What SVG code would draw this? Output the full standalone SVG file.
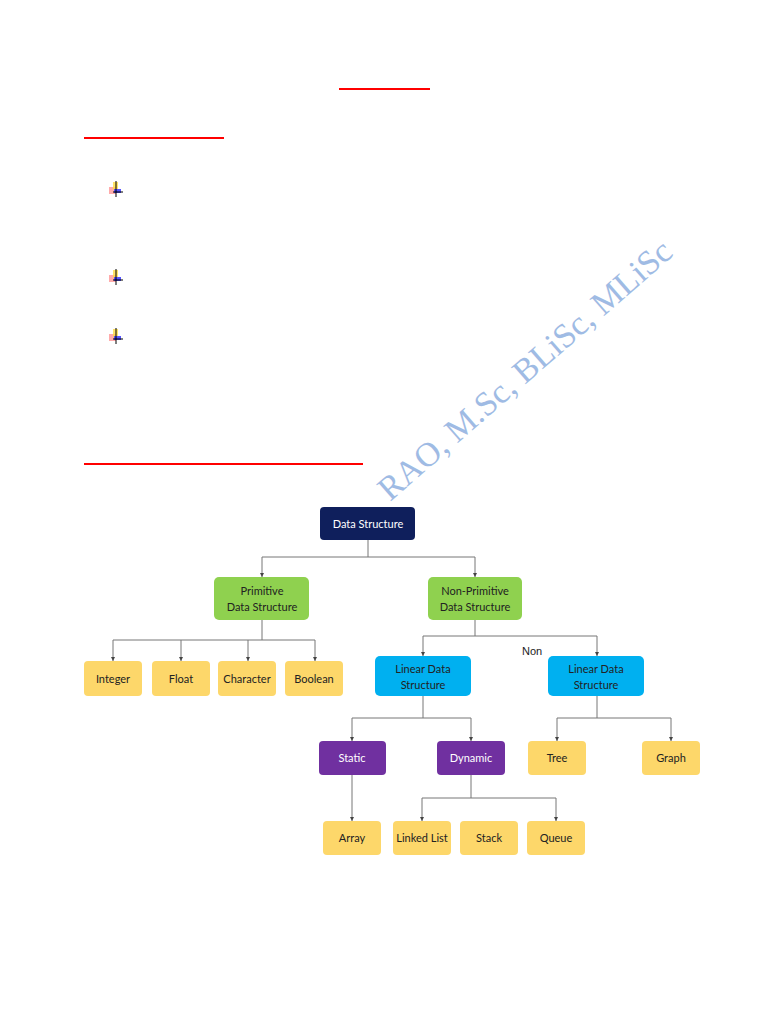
<svg xmlns="http://www.w3.org/2000/svg" width="768" height="1024" viewBox="0 0 768 1024">
<style>
.n text{font-family:"Lato","Liberation Sans",sans-serif;font-size:11px;text-anchor:middle;fill:#222}
.w text{fill:#fff}
.y rect{fill:#fdd76a}
.c line{stroke:#777;stroke-width:1}
.u{stroke:#f00;stroke-width:2}
</style>
<defs><marker id="a" markerWidth="4" markerHeight="4" refX="4" refY="2" orient="auto" markerUnits="userSpaceOnUse"><path d="M0,0 L4,2 L0,4z" fill="#444"/></marker>
<g id="bul"><rect x="-7" y="-3" width="7" height="7" fill="#f88" opacity="0.7"/><rect x="-3" y="-8" width="5" height="8" fill="#fd4" opacity="0.8"/><rect x="-2" y="-1" width="7" height="4" fill="#55f"/><line x1="0" y1="-9" x2="0" y2="7" stroke="#000"/><line x1="-3" y1="2" x2="7" y2="2" stroke="#000"/></g></defs>
<rect width="768" height="1024" fill="#fff"/>
<line class="u" x1="339" y1="89" x2="430" y2="89"/>
<line class="u" x1="84" y1="138" x2="224" y2="138"/>
<line class="u" x1="84" y1="464" x2="363" y2="464"/>
<use href="#bul" x="116" y="190"/><use href="#bul" x="116" y="278"/><use href="#bul" x="116" y="337"/>
<text transform="translate(390,502) rotate(-41)" font-family="Liberation Serif,serif" font-size="34" fill="#8fb0e0" opacity="0.85">RAO, M.Sc, BLiSc, MLiSc</text>
<g class="c" id="connectors">
<line x1="368" y1="540" x2="368" y2="557"/><line x1="262" y1="557" x2="475" y2="557"/>
<line x1="262" y1="557" x2="262" y2="577" marker-end="url(#a)"/><line x1="475" y1="557" x2="475" y2="577" marker-end="url(#a)"/>
<line x1="262" y1="620" x2="262" y2="640"/><line x1="113" y1="640" x2="315" y2="640"/>
<line x1="113" y1="640" x2="113" y2="661" marker-end="url(#a)"/><line x1="181" y1="640" x2="181" y2="661" marker-end="url(#a)"/><line x1="248" y1="640" x2="248" y2="661" marker-end="url(#a)"/><line x1="315" y1="640" x2="315" y2="661" marker-end="url(#a)"/>
<line x1="475" y1="620" x2="475" y2="636"/><line x1="423" y1="636" x2="597" y2="636"/>
<line x1="423" y1="636" x2="423" y2="656" marker-end="url(#a)"/><line x1="597" y1="636" x2="597" y2="656" marker-end="url(#a)"/>
<line x1="423" y1="696" x2="423" y2="718"/><line x1="352" y1="718" x2="471" y2="718"/>
<line x1="352" y1="718" x2="352" y2="741" marker-end="url(#a)"/><line x1="471" y1="718" x2="471" y2="741" marker-end="url(#a)"/>
<line x1="597" y1="696" x2="597" y2="718"/><line x1="557" y1="718" x2="671" y2="718"/>
<line x1="557" y1="718" x2="557" y2="741" marker-end="url(#a)"/><line x1="671" y1="718" x2="671" y2="741" marker-end="url(#a)"/>
<line x1="352" y1="775" x2="352" y2="821" marker-end="url(#a)"/>
<line x1="471" y1="775" x2="471" y2="798"/><line x1="422" y1="798" x2="556" y2="798"/>
<line x1="422" y1="798" x2="422" y2="821" marker-end="url(#a)"/><line x1="556" y1="798" x2="556" y2="821" marker-end="url(#a)"/>
</g>
<g class="n w" id="ds"><rect x="320" y="507" width="95" height="33" rx="4" fill="#0f1f5c"/><text x="368" y="528" font-size="13">Data Structure</text></g>
<g class="n" id="prim"><rect x="214" y="577" width="95" height="43" rx="5" fill="#8fd14f"/><text x="262" y="595">Primitive</text><text x="262" y="611">Data Structure</text></g>
<g class="n" id="nonprim"><rect x="428" y="577" width="94" height="43" rx="5" fill="#8fd14f"/><text x="475" y="595">Non-Primitive</text><text x="475" y="611">Data Structure</text></g>
<g class="n y" id="int"><rect x="84" y="661" width="58" height="35" rx="4"/><text x="113" y="683">Integer</text></g>
<g class="n y" id="float"><rect x="152" y="661" width="58" height="35" rx="4"/><text x="181" y="683">Float</text></g>
<g class="n y" id="char"><rect x="218" y="661" width="58" height="35" rx="4"/><text x="247" y="683">Character</text></g>
<g class="n y" id="bool"><rect x="285" y="661" width="58" height="35" rx="4"/><text x="314" y="683">Boolean</text></g>
<g class="n" id="lin"><rect x="375" y="656" width="96" height="40" rx="5" fill="#00b0f0"/><text x="423" y="673">Linear Data</text><text x="423" y="689">Structure</text></g>
<g class="n" id="nonlin"><rect x="548" y="656" width="96" height="40" rx="5" fill="#00b0f0"/><text x="596" y="673">Linear Data</text><text x="596" y="689">Structure</text></g>
<text x="522" y="655" font-family="Liberation Sans,sans-serif" font-size="11" fill="#222">Non</text>
<g class="n w" id="static"><rect x="319" y="741" width="67" height="34" rx="4" fill="#7030a0"/><text x="352" y="762">Static</text></g>
<g class="n w" id="dyn"><rect x="437" y="741" width="68" height="34" rx="4" fill="#7030a0"/><text x="471" y="762">Dynamic</text></g>
<g class="n y" id="tree"><rect x="528" y="741" width="58" height="34" rx="4"/><text x="557" y="762">Tree</text></g>
<g class="n y" id="graph"><rect x="642" y="741" width="58" height="34" rx="4"/><text x="671" y="762">Graph</text></g>
<g class="n y" id="array"><rect x="323" y="821" width="58" height="34" rx="4"/><text x="352" y="842">Array</text></g>
<g class="n y" id="ll"><rect x="393" y="821" width="58" height="34" rx="4"/><text x="422" y="842">Linked List</text></g>
<g class="n y" id="stack"><rect x="460" y="821" width="58" height="34" rx="4"/><text x="489" y="842">Stack</text></g>
<g class="n y" id="queue"><rect x="527" y="821" width="58" height="34" rx="4"/><text x="556" y="842">Queue</text></g>
</svg>
